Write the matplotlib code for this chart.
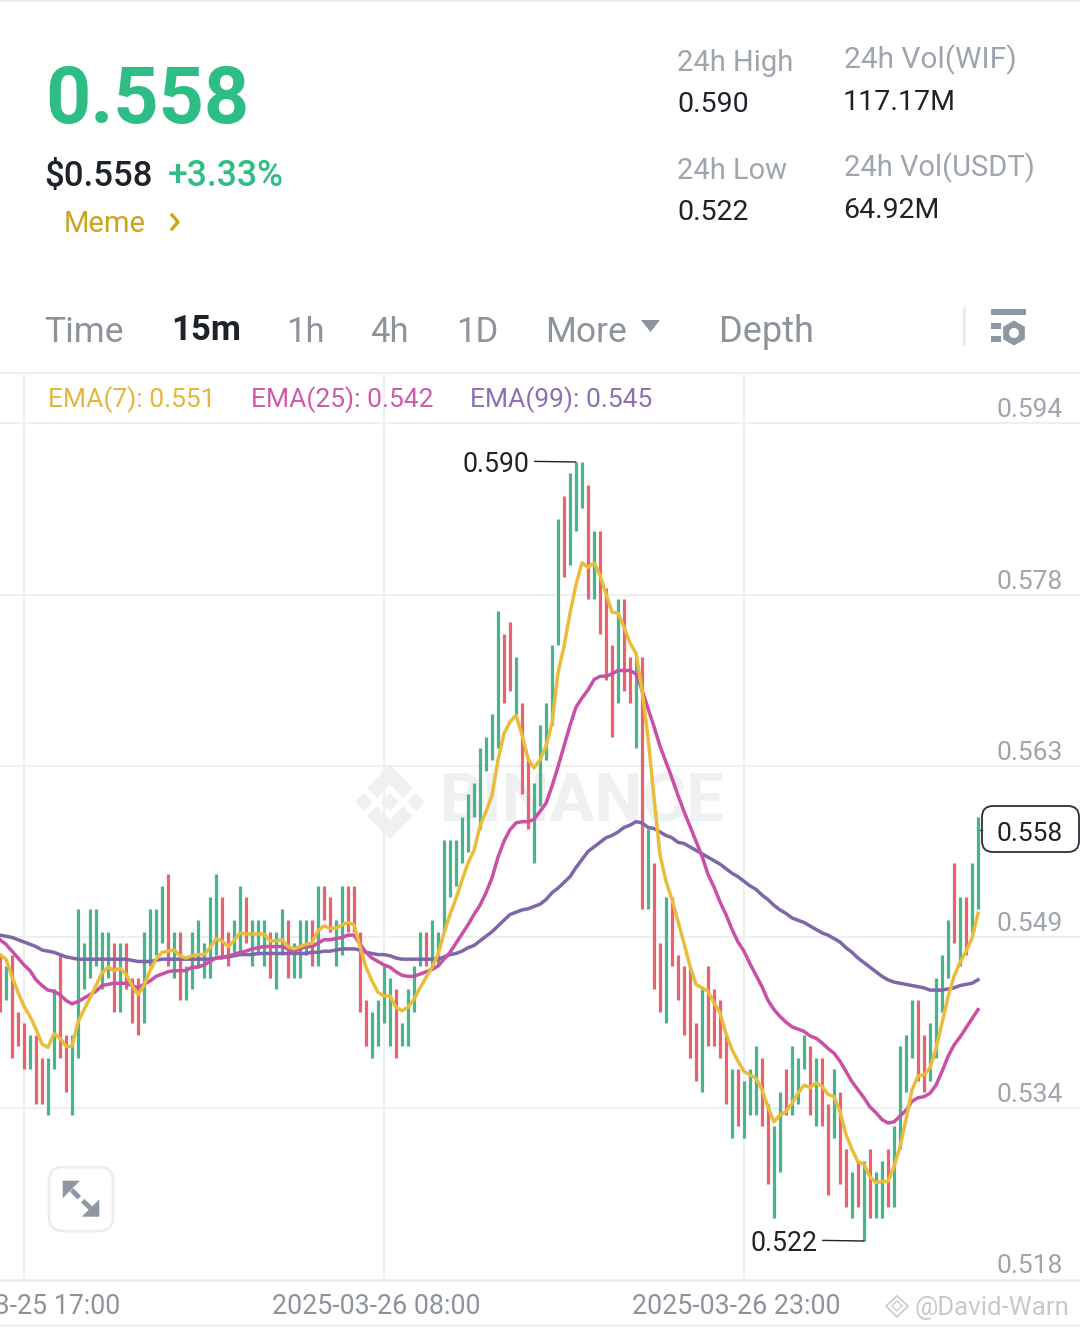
import matplotlib
matplotlib.use("Agg")
import matplotlib.pyplot as plt
from matplotlib.patches import FancyBboxPatch, Polygon, Rectangle, Circle, RegularPolygon

# candles, price values
highs = [.547,.546,.547,.542,.541,.540,.540,.538,.538,.544,.547,.540,.540,.551,.548,.551,.551,.549,.549,.548,
         .548,.548,.545,.545,.549,.551,.551,.553,.554,.549,.549,.546,.549,.550,.548,.552,.554,.552,.549,.550,
         .553,.552,.550,.550,.550,.549,.549,.551,.550,.548,.550,.550,.550,.553,.553,.552,.550,.553,.553,.553,
         .549,.543,.542,.543,.546,.545,.544,.541,.544,.546,.549,.549,.550,.549,.557,.557,.557,.559,.561,.562,
         .565,.566,.568,.577,.575,.576,.573,.569,.564,.562,.567,.569,.574,.585,.587,.589,.590,.590,.588,.584,
         .584,.579,.574,.578,.578,.573,.573,.573,.558,.555,.548,.552,.552,.547,.546,.546,.541,.544,.546,.544,
         .543,.540,.537,.537,.536,.537,.539,.538,.534,.532,.535,.537,.539,.538,.540,.539,.538,.538,.534,.537,
         .535,.530,.528,.529,.529,.530,.528,.529,.530,.532,.539,.540,.543,.543,.540,.541,.545,.547,.550,.555,
         .552,.552,.555,.559]
lows = [.542,.543,.538,.539,.537,.537,.534,.534,.533,.537,.538,.535,.533,.538,.544,.545,.546,.544,.545,.542,
        .542,.544,.541,.540,.541,.546,.547,.548,.546,.545,.543,.543,.544,.546,.545,.545,.547,.547,.546,.547,
        .547,.548,.546,.547,.546,.545,.544,.547,.545,.545,.545,.547,.546,.546,.550,.549,.546,.547,.549,.549,
        .542,.539,.538,.539,.541,.539,.538,.539,.539,.542,.546,.546,.546,.546,.549,.552,.553,.555,.556,.559,
        .558,.563,.564,.565,.569,.570,.568,.561,.558,.555,.560,.564,.567,.574,.580,.581,.584,.586,.578,.578,
        .575,.571,.566,.569,.570,.569,.565,.551,.551,.544,.542,.541,.546,.543,.540,.538,.536,.535,.539,.539,
        .538,.534,.531,.532,.531,.533,.533,.532,.527,.524,.528,.533,.533,.534,.537,.533,.532,.532,.526,.531,
        .527,.525,.524,.525,.522,.524,.524,.524,.525,.525,.530,.535,.538,.536,.535,.536,.538,.542,.545,.548,
        .546,.547,.549,.551]
sides = list("rgrrrgrrgg" "rrgggggggr" "grrrggggrg" "rggggggrrg" "grgggrggrg"
             "ggrgrrggrr" "rrggggrggg" "grgggggggg" "ggggrrgrrg" "ggggrgggrg"
             "rrrgrrgrgr" "rgrrrrrgrr" "rrgrgggrrg" "grgggrgrrg" "rrgrgrggrg"
             "gggrrggggr" "grgg")

ema7 = [.5470,.5466,.5451,.5437,.5425,.5416,.5405,.5392,.5389,.5401,.5397,.5390,.5390,.5411,.5422,.5432,.5443,.5454,.5459,.5456,
        .5458,.5453,.5443,.5435,.5443,.5456,.5466,.5472,.5473,.5474,.5469,.5467,.5469,.5470,.5470,.5476,.5484,.5482,.5477,.5482,
        .5489,.5488,.5488,.5488,.5488,.5482,.5482,.5483,.5477,.5475,.5477,.5479,.5480,.5491,.5495,.5493,.5493,.5496,.5498,.5496,
        .5477,.5459,.5447,.5437,.5434,.5434,.5424,.5421,.5424,.5431,.5441,.5450,.5459,.5470,.5489,.5505,.5519,.5535,.5550,.5561,
        .5582,.5595,.5609,.5640,.5663,.5673,.5679,.5662,.5641,.5633,.5640,.5652,.5672,.5716,.5739,.5768,.5793,.5812,.5808,.5812,
        .5801,.5785,.5769,.5768,.5756,.5742,.5733,.5701,.5660,.5607,.5557,.5534,.5518,.5499,.5480,.5460,.5444,.5441,.5438,.5428,
        .5419,.5401,.5387,.5377,.5368,.5365,.5362,.5352,.5337,.5324,.5330,.5333,.5340,.5349,.5356,.5354,.5358,.5355,.5348,.5346,
        .5333,.5313,.5300,.5289,.5287,.5276,.5271,.5272,.5272,.5285,.5302,.5326,.5352,.5364,.5365,.5371,.5388,.5410,.5433,.5451,
        .5463,.5473,.5484,.5506]
ema25 = [.5483,.5479,.5473,.5467,.5461,.5456,.5448,.5443,.5439,.5438,.5435,.5430,.5427,.5429,.5432,.5435,.5438,.5443,.5444,.5445,
         .5445,.5445,.5443,.5441,.5444,.5447,.5451,.5453,.5455,.5456,.5456,.5456,.5459,.5459,.5461,.5464,.5467,.5467,.5469,.5470,
         .5472,.5473,.5475,.5476,.5477,.5477,.5477,.5477,.5475,.5473,.5475,.5477,.5477,.5480,.5483,.5483,.5484,.5485,.5487,.5487,
         .5479,.5472,.5467,.5464,.5461,.5459,.5455,.5452,.5451,.5451,.5453,.5455,.5457,.5460,.5466,.5472,.5480,.5488,.5496,.5505,
         .5513,.5524,.5537,.5555,.5569,.5579,.5585,.5586,.5586,.5588,.5595,.5602,.5617,.5634,.5652,.5670,.5686,.5694,.5701,.5710,
         .5713,.5713,.5715,.5718,.5718,.5718,.5715,.5701,.5685,.5669,.5652,.5638,.5624,.5609,.5595,.5582,.5569,.5556,.5540,.5529,
         .5516,.5505,.5492,.5481,.5473,.5462,.5452,.5442,.5430,.5422,.5416,.5411,.5407,.5405,.5403,.5399,.5397,.5393,.5388,.5384,
         .5377,.5368,.5359,.5352,.5345,.5337,.5332,.5326,.5323,.5324,.5329,.5334,.5342,.5345,.5346,.5349,.5356,.5368,.5381,.5391,
         .5398,.5406,.5414,.5422]
ema99 = [.5487,.5486,.5485,.5483,.5481,.5479,.5477,.5474,.5473,.5472,.5470,.5468,.5467,.5466,.5466,.5466,.5466,.5466,.5466,.5466,
         .5466,.5466,.5465,.5464,.5464,.5464,.5465,.5466,.5466,.5466,.5466,.5466,.5466,.5466,.5466,.5466,.5467,.5468,.5468,.5469,
         .5470,.5470,.5470,.5471,.5471,.5471,.5471,.5471,.5471,.5471,.5471,.5471,.5472,.5472,.5473,.5473,.5474,.5475,.5475,.5475,
         .5474,.5472,.5471,.5470,.5470,.5469,.5467,.5466,.5466,.5466,.5466,.5466,.5466,.5466,.5468,.5470,.5471,.5473,.5476,.5478,
         .5482,.5486,.5490,.5495,.5500,.5505,.5507,.5509,.5510,.5512,.5514,.5518,.5524,.5528,.5533,.5538,.5546,.5553,.5560,.5564,
         .5568,.5572,.5574,.5577,.5581,.5583,.5586,.5585,.5581,.5580,.5577,.5574,.5572,.5568,.5567,.5564,.5561,.5558,.5555,.5552,
         .5549,.5545,.5541,.5538,.5534,.5530,.5527,.5522,.5518,.5513,.5509,.5506,.5502,.5500,.5498,.5495,.5492,.5489,.5487,.5484,
         .5481,.5476,.5472,.5467,.5463,.5459,.5455,.5451,.5448,.5446,.5445,.5444,.5443,.5442,.5441,.5439,.5439,.5439,.5440,.5441,
         .5443,.5444,.5445,.5448]

price_ticks = [.5934, .5784, .5635, .5485, .5336, .5187]
price_labels = ["0.594", "0.578", "0.563", "0.549", "0.534", "0.518"]
time_ticks = [4, 64, 124]
time_labels = ["2025-03-25 17:00", "2025-03-26 08:00", "2025-03-26 23:00"]

GREEN = "#45b58e"
RED = "#e8636f"
YELLOW = "#e9bd3a"
PINK = "#c950a6"
PURPLE = "#7f66a9"
GRID = "#eeeff1"
GREY = "#9fa5ad"
AXIS_GREY = "#8d939b"
DARK = "#1e2329"
ICON = "#8f97a3"
GOLD = "#cba41c"

plt.rcParams["font.family"] = ["Roboto", "DejaVu Sans"]

fig = plt.figure(figsize=(10.8, 13.28), dpi=100, facecolor="white")
ui = fig.add_axes([0, 0, 1, 1], zorder=0)
ui.set_xlim(0, 1080)
ui.set_ylim(1328, 0)
ui.axis("off")


def label(x, y, s, size, color, weight="normal", ha="left"):
    ui.text(x, y, s, fontsize=size, color=color, fontweight=weight, ha=ha, va="center")


# header
label(45.5, 102, "0.558", 57, "#2ebd85", "bold")
label(44, 177, "$0.558", 25, DARK, "medium")
label(168, 177, "+3.33%", 25.6, "#2ebd85", "medium")
label(63.5, 224, "Meme", 21, GOLD)
ui.plot([172, 178, 172], [215, 222, 229], color=GOLD, lw=2.4)
label(677, 63, "24h High", 21, GREY)
label(677, 105, "0.590", 20.5, DARK)
label(677, 171, "24h Low", 21, GREY)
label(677, 213, "0.522", 20.5, DARK)
label(843.5, 60, "24h Vol(WIF)", 21.5, GREY)
label(843, 102, "117.17M", 20.5, DARK)
label(843.5, 168, "24h Vol(USDT)", 21, GREY)
label(843, 210, "64.92M", 20.5, DARK)

# tabs
label(44, 332, "Time", 25.5, AXIS_GREY)
label(171, 331, "15m", 25, DARK, "bold")
label(286, 332, "1h", 25, AXIS_GREY)
label(370, 332, "4h", 25, AXIS_GREY)
label(456, 332, "1D", 25, AXIS_GREY)
label(545, 332, "More", 25.5, AXIS_GREY)
ui.add_patch(Polygon([(641, 320), (660, 320), (650.5, 332)], color=AXIS_GREY, lw=0))
label(719, 332, "Depth", 26, AXIS_GREY)
ui.plot([964, 964], [308, 344], color="#e9eaec", lw=2)
ui.add_patch(Rectangle((990.5, 309), 35, 6, color=ICON, lw=0))
ui.add_patch(Rectangle((990.5, 323), 10, 6, color=ICON, lw=0))
ui.add_patch(Rectangle((990.5, 336), 10, 6, color=ICON, lw=0))
ui.add_patch(RegularPolygon((1014, 333), 6, radius=12.5, color=ICON, lw=0))
ui.add_patch(Circle((1014, 333), 5, color="white", lw=0))

# frame lines
ui.plot([0, 1080], [373, 373], color=GRID, lw=1.5)
ui.plot([0, 1080], [1280, 1280], color=GRID, lw=2)
ui.plot([0, 1080], [1325, 1325], color=GRID, lw=2)
ui.plot([0, 1080], [0, 0], color=GRID, lw=2)

# watermark
wm = "#eff0f2"
for cx, cy in [(390, 802), (364, 802), (416, 802)]:
    ui.add_patch(Polygon([(cx - 9, cy), (cx, cy - 9), (cx + 9, cy), (cx, cy + 9)], color=wm, lw=0))
for sgn in (-1, 1):
    ui.add_patch(Polygon([(390, 802 + sgn * 37), (413, 802 + sgn * 14), (403, 802 + sgn * 4),
                          (390, 802 + sgn * 18), (377, 802 + sgn * 4), (367, 802 + sgn * 14)],
                         color=wm, lw=0))
label(440, 803, "BINANCE", 48.5, wm, "bold")

# expand button
ui.add_patch(FancyBboxPatch((61, 1179), 40, 40, boxstyle="round,pad=12,rounding_size=14",
                            fc="white", ec="#eceded", lw=2))
ui.add_patch(Polygon([(62.7, 1180.7), (80, 1180.7), (62.7, 1198.3)], color=ICON, lw=0))
ui.add_patch(Polygon([(99.3, 1216.7), (81.7, 1216.7), (99.3, 1199.3)], color=ICON, lw=0))
ui.plot([71.7, 79.3], [1190, 1197.7], color=ICON, lw=3.6, solid_capstyle="butt")
ui.plot([82.7, 90.7], [1200.7, 1208.3], color=ICON, lw=3.6, solid_capstyle="butt")

# last price box
ui.add_patch(FancyBboxPatch((992, 816), 77, 26, boxstyle="round,pad=10,rounding_size=11",
                            fc="white", ec="#2b2f36", lw=1.3))
ui.plot([978, 982], [830, 830], color="#2b2f36", lw=1)
label(1030, 834, "0.558", 19, DARK, ha="center")

# time labels
for t, s in zip(time_ticks, time_labels):
    label(t * 6 - 8, 1306, s, 19.3, AXIS_GREY, ha="center")

# bottom right mark
ui.add_patch(Polygon([(886, 1306), (897, 1296), (908, 1306), (897, 1317)], fc="none", ec="#c9cdd2", lw=1.3))
ui.add_patch(Polygon([(892, 1306), (897, 1301), (902, 1306), (897, 1311)], fc="none", ec="#c9cdd2", lw=1))
label(915, 1308, "@David-Warn", 18.6, "#c6cacf")

# chart area, 6 px per candle and 11456 px per unit of price
chart = fig.add_axes([0, (1328 - 1280) / 1328, 1, (1280 - 373) / 1328], zorder=1)
chart.set_facecolor("none")
chart.set_xlim(0, 180)
chart.set_ylim(.590 - (1280 - 462) / 11456, .590 + (462 - 373) / 11456)
chart.axis("off")

for p in price_ticks[:-1]:
    chart.axhline(p, color=GRID, lw=1.5, zorder=1)
for t in time_ticks:
    chart.axvline(t, color=GRID, lw=1.5, zorder=1)
for p, s in zip(price_ticks, price_labels):
    chart.annotate(s, (177, p), xytext=(1, 13), textcoords="offset pixels", ha="right", va="center",
                   fontsize=19, color=GREY, zorder=2)

xs = list(range(len(highs)))
colors = [GREEN if c == "g" else RED for c in sides]
chart.vlines(xs, lows, highs, colors=colors, lw=2.3, zorder=3)
chart.plot(range(len(ema99)), ema99, color=PURPLE, lw=2.5, zorder=4)
chart.plot(range(len(ema25)), ema25, color=PINK, lw=2.5, zorder=5)
chart.plot(range(len(ema7)), ema7, color=YELLOW, lw=2.5, zorder=6)

chart.annotate("0.590", (96, .590), xytext=(-47, -2), textcoords="offset pixels", ha="right", va="center",
               fontsize=19.2, color=DARK, arrowprops=dict(arrowstyle="-", color=DARK, lw=1, shrinkA=2, shrinkB=0, relpos=(1, .6)))
chart.annotate("0.522", (144, .522), xytext=(-47, -2), textcoords="offset pixels", ha="right", va="center",
               fontsize=19.2, color=DARK, arrowprops=dict(arrowstyle="-", color=DARK, lw=1, shrinkA=2, shrinkB=0, relpos=(1, .6)))

legend_y = .590 + (462 - 400) / 11456
chart.text(48 / 6, legend_y, "EMA(7): 0.551", fontsize=19, color="#e3b63c", va="center")
chart.text(251 / 6, legend_y, "EMA(25): 0.542", fontsize=19, color="#cf5aac", va="center")
chart.text(470 / 6, legend_y, "EMA(99): 0.545", fontsize=19, color="#8d70b2", va="center")

fig.savefig("out.png", dpi=100)
